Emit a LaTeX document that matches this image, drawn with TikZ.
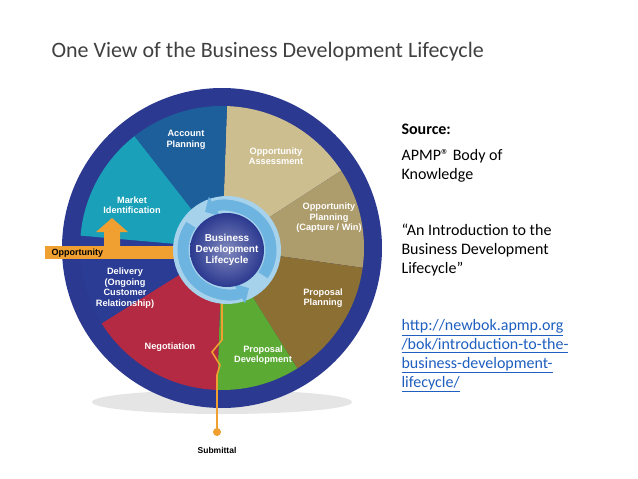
\documentclass[tikz,border=0pt]{standalone}
\usepackage{fontspec}
\setmainfont{Carlito}
\newfontfamily\arl{Liberation Sans}
\usetikzlibrary{arrows.meta}
\definecolor{navy}{HTML}{2B3990}
\definecolor{acc}{HTML}{1D5F9A}
\definecolor{oas}{HTML}{CDBE90}
\definecolor{opl}{HTML}{AD9C6C}
\definecolor{ppl}{HTML}{8C6F32}
\definecolor{pdev}{HTML}{5AAA34}
\definecolor{neg}{HTML}{B42A42}
\definecolor{dlv}{HTML}{2A3C94}
\definecolor{mkt}{HTML}{1AA0B8}
\definecolor{orng}{HTML}{F0A030}
\definecolor{lnk}{HTML}{1F5FC0}
\definecolor{hubring}{HTML}{6DB4E0}
\tikzset{x=1pt,y=-1pt,
 wl/.style={font=\arl\bfseries\fontsize{9.2}{10.5}\selectfont,text=white,align=center},
 rt/.style={font=\fontsize{16}{19}\selectfont,anchor=north west,align=left}}
\begin{document}
\begin{tikzpicture}
\useasboundingbox (0,0) rectangle (638,479);
\fill[white] (0,0) rectangle (638,479);
\node[anchor=west,font=\fontsize{22}{26}\selectfont,text=black!75] (title) at (48,52) {One View of the Business Development Lifecycle};
% shadow
\fill[black!10] (222,402) ellipse (130 and 12);
% wheel
\coordinate (c) at (222,248);
\fill[navy] (c) circle (160);
\begin{scope}
\clip (c) circle (142);
\foreach \a/\b/\col in {88/33/oas,33/-8/opl,-8/-58/ppl,-58/-92/pdev,-92/-148/neg,-148/-185/dlv,175/128/mkt,128/88/acc}{
 \fill[\col] (c) -- ++(-\a:200) arc[start angle=-\a,end angle=-\b,radius=200] -- cycle;}
\end{scope}
% opportunity arrow
\fill[orng] (45,246) -- (190,246) -- (190,259) -- (45,259) -- cycle;
\fill[orng] (104,246) -- (104,232) -- (96,232) -- (112,218) -- (128,232) -- (120,232) -- (120,246) -- cycle;
\node[anchor=west,font=\arl\bfseries\fontsize{9}{10}\selectfont] (opp) at (48,253) {Opportunity};
% submittal
\coordinate (sd) at (217,432);
\draw[orng,line width=1.6] (222,300) -- (222,340) -- (212,352) -- (220,365) -- (217,375) -- (sd);
\fill[orng] (sd) circle (4);
\node[font=\arl\bfseries\fontsize{8.5}{10}\selectfont] (sub) at (217,450) {Submittal};
% hub
\coordinate (h) at (227,250);
\fill[hubring!60] (h) circle (54);
\draw[hubring,line width=11,-{Triangle[width=22pt,length=11pt]}] (227,250) ++(215:44) arc[start angle=215,end angle=60,radius=44];
\draw[hubring,line width=11,-{Triangle[width=22pt,length=11pt]}] (227,250) ++(35:44) arc[start angle=35,end angle=-120,radius=44];
\shade[inner color=navy!60,outer color=navy] (h) circle (37);
\node[font=\arl\bfseries\fontsize{10}{11}\selectfont,text=white,align=center] (hubt) at (h) {Business\\Development\\Lifecycle};
% labels
\node[wl] (l1) at (186,140) {Account\\Planning};
\node[wl] (l2) at (276,156) {Opportunity\\Assessment};
\node[wl] (l3) at (329,218) {Opportunity\\Planning\\(Capture / Win)};
\node[wl] (l4) at (323,298) {Proposal\\Planning};
\node[wl] (l5) at (263,355) {Proposal\\Development};
\node[wl] (l6) at (170,347) {Negotiation};
\node[wl] (l7) at (125,288) {Delivery\\(Ongoing\\Customer\\Relationship)};
\node[wl] (l8) at (132,205) {Market\\Identification};
% right text
\node[rt,font=\bfseries\fontsize{16}{19}\selectfont] (src) at (398,120) {Source:};
\node[rt] (apmp) at (398,146) {APMP® Body of\\Knowledge};
\node[rt] (intro) at (398,220) {“An Introduction to the\\Business Development\\Lifecycle”};
\node[rt,text=lnk] (url) at (398,316) {\underline{http://newbok.apmp.org}\\\underline{/bok/introduction-to-the-}\\\underline{business-development-}\\\underline{lifecycle/}};
\end{tikzpicture}
\end{document}
